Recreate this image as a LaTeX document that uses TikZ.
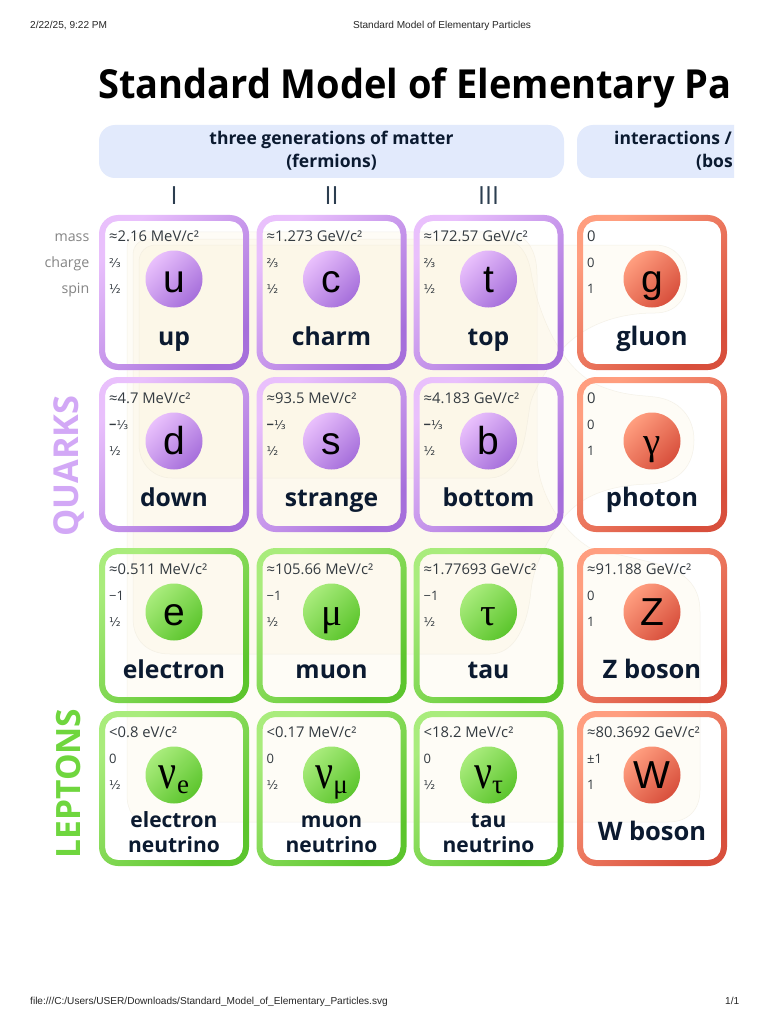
\documentclass[tikz,border=0pt]{standalone}
\usepackage{fontspec}
\usepackage{graphicx}
\setmainfont{Open Sans}
\newfontfamily\hdrfont{Liberation Sans}
\newfontfamily\symfont{Liberation Sans}
\newfontfamily\grkfont{Liberation Serif}
\newfontfamily\fracfont{DejaVu Sans}
\newcommand{\fsz}[1]{\fontsize{#1}{#1}\selectfont}
\newcommand{\fr}[1]{{\fracfont\fsz{12}#1}}
\newcommand{\negfr}{{\bfseries −}\fr{⅓}}
\definecolor{navy}{HTML}{0B1A30}
\definecolor{masstxt}{HTML}{333A40}
\definecolor{hdrblue}{HTML}{E2EAFC}
\definecolor{sidegray}{HTML}{858585}
\definecolor{romanc}{HTML}{2C3E50}
\definecolor{creamf}{HTML}{FCEFCC}
\definecolor{creaml}{HTML}{EDE8DA}
\definecolor{purA}{HTML}{E9C0FC}
\definecolor{purB}{HTML}{A66FDB}
\definecolor{grnA}{HTML}{A9EC7C}
\definecolor{grnB}{HTML}{5CC52D}
\definecolor{redA}{HTML}{FF9E7F}
\definecolor{redB}{HTML}{D84F3C}
\definecolor{quarkc}{HTML}{D2A8F6}
\definecolor{leptonc}{HTML}{6FD63E}
\tikzset{
  region/.style={fill=creamf,fill opacity=0.17,draw=creaml,draw opacity=0.55,line width=0.5pt},
  pur/.style={top color=purA,bottom color=purB,shading angle=45},
  grn/.style={top color=grnA,bottom color=grnB,shading angle=45},
  red/.style={top color=redA,bottom color=redB,shading angle=45},
  masslab/.style={anchor=base west,inner sep=0pt,text=masstxt,font=\fsz{14.8}},
  smalllab/.style={anchor=base west,inner sep=0pt,text=masstxt,font=\fsz{13}},
  namelab/.style={anchor=base,inner sep=0pt,text=navy,font=\bfseries\fsz{24.7}},
  bosonlab/.style={namelab,font=\bfseries\fsz{25.5}},
  twolab/.style={namelab,font=\bfseries\fsz{21}},
  sidelab/.style={anchor=base east,inner sep=0pt,text=sidegray,font=\fsz{14.2}},
  symlab/.style={anchor=base,inner sep=0pt,text=black,font=\symfont\fsz{39}},
  genlab/.style={anchor=base,inner sep=0pt,text=romanc,font=\fsz{25}},
  headlab/.style={anchor=base,inner sep=0pt,text=navy,font=\bfseries\fsz{17.5}},
  pagelab/.style={anchor=base west,inner sep=0pt,text=black!85,font=\hdrfont\fsz{10.1}},
}
% #1 id, #2 centre x, #3 top y, #4 colour style, #5 mass, #6 charge, #7 spin, #8 symbol
\newcommand{\partcard}[8]{%
  \shade[#4,even odd rule,rounded corners=19pt] (#2-75,#3) rectangle (#2+75,#3+155)
      [rounded corners=13pt] (#2-69,#3+6) rectangle (#2+69,#3+149);
  \shade[#4] (#2,#3+64) circle (28.5);
  \node[masslab] (#1mass) at (#2-65,#3+26) {#5};
  \node[smalllab] (#1charge) at (#2-65,#3+52) {#6};
  \node[smalllab] (#1spin) at (#2-65,#3+78) {#7};
  \node[symlab] (#1sym) at (#2,#3+77.5) {#8};
}
\newcommand{\nulab}[1]{\scalebox{0.95}[1.18]{\grkfont\fsz{42}ν}\raisebox{-5pt}{\grkfont\fsz{27}#1}}
\begin{document}
\begin{tikzpicture}[x=1pt,y=-1pt]
\useasboundingbox (0,0) rectangle (768,1024);
\fill[white] (0,0) rectangle (768,1024);
% interaction regions
\path[region] (127,250) .. controls (127,238) and (133,232) .. (145,232) -- (505,232)
  .. controls (526,232) and (537,250) .. (537,275) -- (537,455)
  .. controls (537,490) and (560,530) .. (590,548) -- (650,562)
  .. controls (685,570) and (700,585) .. (700,612) -- (700,790)
  .. controls (700,810) and (688,822) .. (668,822) -- (150,822)
  .. controls (135,822) and (127,812) .. (127,795) -- cycle;
\path[region] (133,255) .. controls (133,245) and (140,239) .. (150,239) -- (500,239)
  .. controls (520,239) and (528,255) .. (531,272)
  .. controls (537,310) and (560,370) .. (600,386)
  .. controls (625,396) and (640,395) .. (655,397)
  .. controls (680,400) and (694,418) .. (694,440)
  .. controls (694,465) and (680,483) .. (650,484)
  .. controls (610,485) and (580,495) .. (560,522)
  .. controls (545,545) and (534,565) .. (531,590)
  .. controls (528,625) and (515,654) .. (490,654) -- (170,654)
  .. controls (147,654) and (133,640) .. (133,618) -- cycle;
\path[region] (139,262) .. controls (139,252) and (146,245) .. (156,245) -- (655,245)
  .. controls (675,245) and (687,260) .. (687,279)
  .. controls (687,300) and (675,313) .. (655,313)
  .. controls (610,313) and (575,330) .. (555,358)
  .. controls (540,380) and (532,395) .. (530,405)
  .. controls (527,425) and (525,440) .. (522,448)
  .. controls (517,465) and (505,478) .. (490,478) -- (172,478)
  .. controls (152,478) and (139,462) .. (139,445) -- cycle;
% page header and footer
\node[pagelab] (pagedate) at (30,29) {2/22/25, 9:22 PM};
\node[pagelab,anchor=base] (pagetitle) at (442,29) {Standard Model of Elementary Particles};
\node[pagelab] (pagefile) at (30,1004) {file:///C:/Users/USER/Downloads/Standard\_Model\_of\_Elementary\_Particles.svg};
\node[pagelab] (pagenum) at (725,1004) {1/1};
% title
\node[anchor=base west,inner sep=0pt,text=black,font=\bfseries\fsz{40}] (title) at (98,98.5) {\scalebox{0.95}[1]{Standard Model of Elementary Pa}};
% group headers
\fill[hdrblue,rounded corners=16pt] (99,125) rectangle (564,178);
\fill[hdrblue] (593,125) -- (734,125) -- (734,178) -- (593,178)
  arc[start angle=90,end angle=180,radius=16] -- (577,141) arc[start angle=180,end angle=270,radius=16] -- cycle;
\node[headlab] (hfermi) at (331.5,145) {three generations of matter};
\node[headlab] (hfermib) at (331.5,168) {(fermions)};
\node[headlab,anchor=base west] (hboson) at (614,145) {interactions /};
\node[headlab,anchor=base west] (hbosonb) at (696,168) {(bos};
% generations
\node[genlab] (gen1) at (174,205) {I};
\node[genlab] (gen2) at (331.5,205) {II};
\node[genlab] (gen3) at (488.5,205) {III};
% side labels
\node[sidelab] (sidemass) at (89.5,241) {mass};
\node[sidelab] (sidecharge) at (89.5,267) {charge};
\node[sidelab] (sidespin) at (89.5,293) {spin};
\node[rotate=90,anchor=center,inner sep=0pt,text=quarkc,font=\bfseries\fsz{34.3}] (quarks) at (69,466) {QUARKS};
\node[rotate=90,anchor=center,inner sep=0pt,text=leptonc,font=\bfseries\fsz{33.5}] (leptons) at (69,783.5) {LEPTONS};
% cards
\partcard{u}{174}{215}{pur}{≈2.16 MeV/c²}{\fr{⅔}}{\fr{½}}{u}
\partcard{c}{331.5}{215}{pur}{≈1.273 GeV/c²}{\fr{⅔}}{\fr{½}}{c}
\partcard{t}{488.5}{215}{pur}{≈172.57 GeV/c²}{\fr{⅔}}{\fr{½}}{t}
\partcard{g}{652}{215}{red}{0}{0}{1}{g}
\partcard{d}{174}{377}{pur}{≈4.7 MeV/c²}{\negfr}{\fr{½}}{d}
\partcard{s}{331.5}{377}{pur}{≈93.5 MeV/c²}{\negfr}{\fr{½}}{s}
\partcard{b}{488.5}{377}{pur}{≈4.183 GeV/c²}{\negfr}{\fr{½}}{b}
\partcard{ph}{652}{377}{red}{0}{0}{1}{\grkfont γ}
\partcard{e}{174}{548}{grn}{≈0.511 MeV/c²}{−1}{\fr{½}}{e}
\partcard{mu}{331.5}{548}{grn}{≈105.66 MeV/c²}{−1}{\fr{½}}{\grkfont μ}
\partcard{ta}{488.5}{548}{grn}{≈1.77693 GeV/c²}{−1}{\fr{½}}{\grkfont τ}
\partcard{Z}{652}{548}{red}{≈91.188 GeV/c²}{0}{1}{Z}
\partcard{ve}{174}{711}{grn}{<0.8 eV/c²}{0}{\fr{½}}{\nulab{e}}
\partcard{vm}{331.5}{711}{grn}{<0.17 MeV/c²}{0}{\fr{½}}{\nulab{μ}}
\partcard{vt}{488.5}{711}{grn}{<18.2 MeV/c²}{0}{\fr{½}}{\nulab{τ}}
\partcard{W}{652}{711}{red}{≈80.3692 GeV/c²}{±1}{1}{W}
% names
\node[namelab] (nu) at (174,345) {up};
\node[namelab] (nc) at (331.5,345) {charm};
\node[namelab] (nt) at (488.5,345) {top};
\node[bosonlab] (ng) at (652,345) {gluon};
\node[namelab] (nd) at (174,506) {down};
\node[namelab] (ns) at (331.5,506) {strange};
\node[namelab] (nb) at (488.5,506) {bottom};
\node[bosonlab] (nph) at (652,506) {photon};
\node[namelab] (ne) at (174,678) {electron};
\node[namelab] (nmu) at (331.5,678) {muon};
\node[namelab] (nta) at (488.5,678) {tau};
\node[bosonlab] (nZ) at (652,678) {Z boson};
\node[twolab] (nve) at (174,827) {electron};
\node[twolab] (nve2) at (174,852) {neutrino};
\node[twolab] (nvm) at (331.5,827) {muon};
\node[twolab] (nvm2) at (331.5,852) {neutrino};
\node[twolab] (nvt) at (488.5,827) {tau};
\node[twolab] (nvt2) at (488.5,852) {neutrino};
\node[bosonlab] (nW) at (652,840) {W boson};
\end{tikzpicture}
\end{document}
